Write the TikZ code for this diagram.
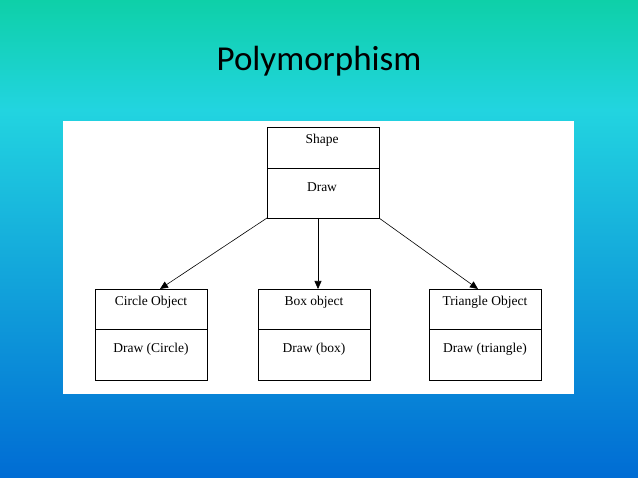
\documentclass[tikz,border=0pt]{standalone}
\usepackage{fontspec}
\setmainfont{Liberation Serif}
\newfontfamily\titlefont{Carlito}
\usetikzlibrary{arrows.meta}
\begin{document}
\begin{tikzpicture}[x=1pt,y=-1pt,
  lbl/.style={font=\fontsize{13.5}{16}\selectfont,anchor=center},
  box/.style={draw,line width=0.8pt},
  arr/.style={-{Triangle[length=8pt,width=7pt]},line width=0.6pt}]
\useasboundingbox (0,0) rectangle (638,478);
\shade[top color={rgb,255:red,14;green,208;blue,168},bottom color={rgb,255:red,34;green,212;blue,224}] (0,0) rectangle (638,110.5);
\shade[top color={rgb,255:red,34;green,212;blue,224},bottom color={rgb,255:red,0;green,108;blue,212}] (0,110) rectangle (638,478);
\node[font=\titlefont\fontsize{35}{40}\selectfont] (title) at (319,61) {Polymorphism};
\fill[white] (63,121) rectangle (574,394);
% shape
\draw[box] (267,127) rectangle (379,218);
\draw[box] (267,168) -- (379,168);
\node[lbl] (s1) at (322,140) {Shape};
\node[lbl] (s2) at (322,187) {Draw};
\coordinate (sl) at (267,218); \coordinate (sm) at (318,218); \coordinate (sr) at (379,218);
% children
\foreach \x/\a/\b/\n in {95/Circle Object/Draw (Circle)/c, 258/Box object/Draw (box)/b, 429/Triangle Object/Draw (triangle)/t}{
  \draw[box] (\x,289) rectangle ({\x+112},380);
  \draw[box] (\x,329) -- ({\x+112},329);
  \node[lbl] (\n1) at ({\x+56},302) {\a};
  \node[lbl] (\n2) at ({\x+56},349) {\b};
}
\coordinate (ct) at (160,289); \coordinate (bt) at (318,289); \coordinate (tt) at (478,289);
\draw[arr] (sl) -- (ct);
\draw[arr] (sm) -- (bt);
\draw[arr] (sr) -- (tt);
\end{tikzpicture}
\end{document}
